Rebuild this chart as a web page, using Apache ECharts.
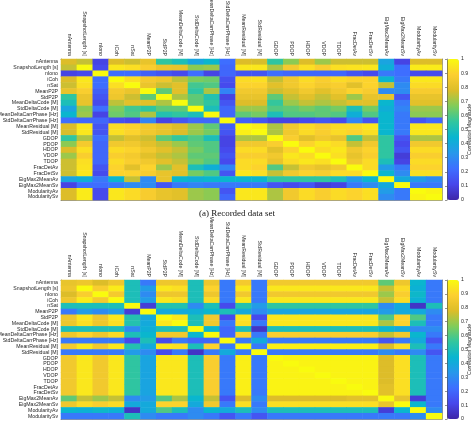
<!DOCTYPE html>
<html>
<head>
<meta charset="utf-8">
<script src="https://cdn.jsdelivr.net/npm/echarts@6/dist/echarts.min.js"></script>
<style>
html, body { margin: 0; padding: 0; background: #fff; }
#main { width: 474px; height: 423px; }
</style>
</head>
<body>
<div id="main"></div>
<script>
// variable names, same order for rows and columns
const labels = ['nAntenna', 'SnapshotLength [s]', 'nIono', 'iCoh', 'nSat', 'MeanP2P', 'StdP2P',
	'MeanDeltaCode [M]', 'StdDeltaCode [M]', 'MeanDeltaCarrPhase [Hz]', 'StdDeltaCarrPhase [Hz]',
	'MeanResidual [M]', 'StdResidual [M]', 'GDOP', 'PDOP', 'HDOP', 'VDOP', 'TDOP',
	'FracDetAv', 'FracDetSv', 'EigMax2MeanAv', 'EigMax2MeanSv', 'ModularityAv', 'ModularitySv']

// (a) recorded data set - correlation magnitude
const recorded = [
	[0.78,0.75,0.10,0.78,0.76,0.82,0.55,0.50,0.38,0.45,0.22,0.78,0.77,0.55,0.68,0.78,0.70,0.76,0.76,0.76,0.38,0.10,0.78,0.78],
	[0.75,1.00,0.12,0.95,0.93,0.88,0.83,0.82,0.68,0.70,0.20,0.95,0.95,0.72,0.86,0.93,0.88,0.93,0.94,0.95,0.42,0.22,0.96,0.96],
	[0.10,0.12,1.00,0.22,0.22,0.18,0.15,0.12,0.22,0.10,0.20,0.15,0.15,0.22,0.20,0.20,0.20,0.20,0.15,0.12,0.25,0.22,0.12,0.12],
	[0.78,0.95,0.22,1.00,0.93,0.86,0.84,0.74,0.66,0.64,0.14,0.92,0.93,0.75,0.85,0.92,0.88,0.92,0.90,0.90,0.45,0.25,0.95,0.95],
	[0.76,0.93,0.22,0.93,1.00,0.83,0.76,0.80,0.58,0.60,0.12,0.90,0.90,0.80,0.85,0.90,0.86,0.88,0.80,0.90,0.75,0.30,0.92,0.92],
	[0.82,0.88,0.18,0.86,0.83,1.00,0.62,0.80,0.55,0.72,0.28,0.85,0.85,0.76,0.80,0.85,0.80,0.85,0.90,0.87,0.30,0.30,0.87,0.87],
	[0.55,0.83,0.15,0.84,0.76,0.62,1.00,0.72,0.62,0.52,0.10,0.82,0.82,0.62,0.75,0.80,0.75,0.80,0.70,0.82,0.82,0.15,0.82,0.82],
	[0.50,0.82,0.12,0.74,0.80,0.80,0.72,1.00,0.62,0.55,0.15,0.78,0.78,0.56,0.70,0.75,0.72,0.75,0.80,0.80,0.45,0.25,0.80,0.80],
	[0.38,0.68,0.22,0.66,0.58,0.55,0.62,0.62,1.00,0.50,0.20,0.70,0.70,0.60,0.62,0.65,0.62,0.65,0.50,0.65,0.42,0.28,0.70,0.70],
	[0.45,0.70,0.10,0.64,0.60,0.72,0.52,0.55,0.50,1.00,0.20,0.62,0.65,0.50,0.60,0.60,0.62,0.60,0.42,0.60,0.45,0.25,0.68,0.68],
	[0.22,0.20,0.20,0.14,0.12,0.28,0.10,0.15,0.20,0.20,1.00,0.18,0.15,0.10,0.10,0.12,0.15,0.12,0.28,0.15,0.45,0.25,0.15,0.20],
	[0.78,0.95,0.15,0.92,0.90,0.85,0.82,0.78,0.70,0.62,0.18,1.00,0.97,0.72,0.85,0.92,0.88,0.92,0.92,0.95,0.45,0.25,0.95,0.95],
	[0.77,0.95,0.15,0.93,0.90,0.85,0.82,0.78,0.70,0.65,0.15,0.97,1.00,0.72,0.85,0.92,0.88,0.92,0.90,0.93,0.45,0.25,0.95,0.95],
	[0.55,0.72,0.22,0.75,0.80,0.76,0.62,0.56,0.60,0.50,0.10,0.72,0.72,1.00,0.88,0.80,0.85,0.82,0.60,0.75,0.55,0.15,0.72,0.72],
	[0.68,0.86,0.20,0.85,0.85,0.80,0.75,0.70,0.62,0.60,0.10,0.85,0.85,0.88,1.00,0.90,0.95,0.92,0.75,0.85,0.55,0.12,0.85,0.85],
	[0.78,0.93,0.20,0.92,0.90,0.85,0.80,0.75,0.65,0.60,0.12,0.92,0.92,0.80,0.90,1.00,0.92,0.95,0.85,0.90,0.55,0.15,0.92,0.92],
	[0.70,0.88,0.20,0.88,0.86,0.80,0.75,0.72,0.62,0.62,0.15,0.88,0.88,0.85,0.95,0.92,1.00,0.93,0.82,0.88,0.55,0.08,0.88,0.88],
	[0.76,0.93,0.20,0.92,0.88,0.85,0.80,0.75,0.65,0.60,0.12,0.92,0.92,0.82,0.92,0.95,0.93,1.00,0.85,0.92,0.50,0.10,0.92,0.92],
	[0.76,0.94,0.15,0.90,0.80,0.90,0.70,0.80,0.50,0.42,0.28,0.92,0.90,0.60,0.75,0.85,0.82,0.85,1.00,0.92,0.35,0.25,0.90,0.90],
	[0.76,0.95,0.12,0.90,0.90,0.87,0.82,0.80,0.65,0.60,0.15,0.95,0.93,0.75,0.85,0.90,0.88,0.92,0.92,1.00,0.45,0.30,0.93,0.93],
	[0.38,0.42,0.25,0.45,0.75,0.30,0.82,0.45,0.42,0.45,0.45,0.45,0.45,0.55,0.55,0.55,0.55,0.50,0.35,0.45,1.00,0.40,0.35,0.30],
	[0.10,0.22,0.22,0.25,0.30,0.30,0.15,0.25,0.28,0.25,0.25,0.25,0.25,0.15,0.12,0.15,0.08,0.10,0.25,0.30,0.40,1.00,0.25,0.25],
	[0.78,0.96,0.12,0.95,0.92,0.87,0.82,0.80,0.70,0.68,0.15,0.95,0.95,0.72,0.85,0.92,0.88,0.92,0.90,0.93,0.35,0.25,1.00,0.98],
	[0.78,0.96,0.12,0.95,0.92,0.87,0.82,0.80,0.70,0.68,0.20,0.95,0.95,0.72,0.85,0.92,0.88,0.92,0.90,0.93,0.30,0.25,0.98,1.00]
]

// (b) second data set
const simulated = [
	[0.82,0.84,0.78,0.84,0.50,0.25,0.84,0.84,0.50,0.84,0.25,0.86,0.25,0.85,0.85,0.85,0.85,0.85,0.85,0.85,0.62,0.84,0.45,0.25],
	[0.84,1.00,0.88,0.96,0.50,0.35,0.95,0.93,0.50,0.90,0.25,0.95,0.25,0.95,0.95,0.95,0.95,0.95,0.95,0.95,0.75,0.92,0.43,0.25],
	[0.78,0.88,1.00,0.86,0.50,0.30,0.84,0.84,0.50,0.84,0.25,0.85,0.25,0.85,0.85,0.85,0.85,0.85,0.85,0.85,0.70,0.88,0.46,0.25],
	[0.84,0.96,0.86,1.00,0.50,0.35,0.95,0.93,0.50,0.92,0.25,0.95,0.25,0.95,0.95,0.95,0.95,0.95,0.95,0.95,0.75,0.92,0.43,0.25],
	[0.50,0.50,0.50,0.50,1.00,0.08,0.52,0.52,0.30,0.50,0.12,0.52,0.35,0.55,0.55,0.55,0.55,0.55,0.55,0.55,0.30,0.40,0.05,0.50],
	[0.25,0.35,0.30,0.35,0.08,1.00,0.40,0.40,0.42,0.45,0.50,0.40,0.30,0.38,0.38,0.38,0.38,0.38,0.38,0.38,0.35,0.40,0.40,0.30],
	[0.84,0.95,0.84,0.95,0.52,0.40,1.00,0.95,0.50,0.85,0.12,0.95,0.12,0.95,0.95,0.95,0.95,0.95,0.95,0.95,0.60,0.90,0.60,0.25],
	[0.84,0.93,0.84,0.93,0.52,0.40,0.95,1.00,0.50,0.85,0.25,0.93,0.25,0.95,0.95,0.95,0.95,0.95,0.95,0.95,0.72,0.90,0.50,0.25],
	[0.50,0.50,0.50,0.50,0.30,0.42,0.50,0.50,1.00,0.45,0.20,0.50,0.05,0.50,0.50,0.50,0.50,0.50,0.50,0.50,0.45,0.40,0.30,0.30],
	[0.84,0.90,0.84,0.92,0.50,0.45,0.85,0.85,0.45,1.00,0.20,0.90,0.25,0.88,0.88,0.88,0.88,0.88,0.88,0.88,0.75,0.85,0.45,0.25],
	[0.25,0.25,0.25,0.25,0.12,0.50,0.12,0.25,0.20,0.20,1.00,0.25,0.40,0.25,0.25,0.25,0.25,0.25,0.25,0.25,0.15,0.25,0.40,0.15],
	[0.86,0.95,0.85,0.95,0.52,0.40,0.95,0.93,0.50,0.90,0.25,1.00,0.25,0.97,0.97,0.97,0.97,0.97,0.97,0.97,0.78,0.93,0.50,0.25],
	[0.25,0.25,0.25,0.25,0.35,0.30,0.12,0.25,0.05,0.25,0.40,0.25,1.00,0.25,0.25,0.25,0.25,0.25,0.25,0.25,0.30,0.25,0.30,0.15],
	[0.85,0.95,0.85,0.95,0.55,0.38,0.95,0.95,0.50,0.88,0.25,0.97,0.25,1.00,0.98,0.98,0.98,0.98,0.98,0.98,0.78,0.93,0.50,0.25],
	[0.85,0.95,0.85,0.95,0.55,0.38,0.95,0.95,0.50,0.88,0.25,0.97,0.25,0.98,1.00,0.98,0.98,0.98,0.98,0.98,0.78,0.93,0.50,0.25],
	[0.85,0.95,0.85,0.95,0.55,0.38,0.95,0.95,0.50,0.88,0.25,0.97,0.25,0.98,0.98,1.00,0.98,0.98,0.98,0.98,0.78,0.93,0.50,0.25],
	[0.85,0.95,0.85,0.95,0.55,0.38,0.95,0.95,0.50,0.88,0.25,0.97,0.25,0.98,0.98,0.98,1.00,0.98,0.98,0.98,0.78,0.93,0.50,0.25],
	[0.85,0.95,0.85,0.95,0.55,0.38,0.95,0.95,0.50,0.88,0.25,0.97,0.25,0.98,0.98,0.98,0.98,1.00,0.98,0.98,0.78,0.93,0.50,0.25],
	[0.85,0.95,0.85,0.95,0.55,0.38,0.95,0.95,0.50,0.88,0.25,0.97,0.25,0.98,0.98,0.98,0.98,0.98,1.00,0.98,0.80,0.93,0.50,0.25],
	[0.85,0.95,0.85,0.95,0.55,0.38,0.95,0.95,0.50,0.88,0.25,0.97,0.25,0.98,0.98,0.98,0.98,0.98,0.98,1.00,0.80,0.93,0.50,0.25],
	[0.62,0.75,0.70,0.75,0.30,0.35,0.60,0.72,0.45,0.75,0.15,0.78,0.30,0.78,0.78,0.78,0.78,0.78,0.80,0.80,1.00,0.82,0.08,0.25],
	[0.84,0.92,0.88,0.92,0.40,0.40,0.90,0.90,0.40,0.85,0.25,0.93,0.25,0.93,0.93,0.93,0.93,0.93,0.93,0.93,0.82,1.00,0.45,0.25],
	[0.45,0.43,0.46,0.43,0.05,0.40,0.60,0.50,0.30,0.45,0.40,0.50,0.30,0.50,0.50,0.50,0.50,0.50,0.50,0.50,0.08,0.45,1.00,0.30],
	[0.25,0.25,0.25,0.25,0.50,0.30,0.25,0.25,0.30,0.25,0.15,0.25,0.15,0.25,0.25,0.25,0.25,0.25,0.25,0.25,0.25,0.25,0.30,1.00]
]

// matlab parula, 10 samples
const parula = ['#3e26a8', '#4747eb', '#3e6fff', '#2797eb', '#08b5d0', '#31c69f', '#81cc59', '#dcbd29', '#fccf30', '#f9fb0e']

const barTitle = 'Correlation Magnitude'

function cells(m) {
	let out = []
	m.forEach((row, i) => row.forEach((v, j) => out.push([j, i, v])))
	return out
}

const font = 'Liberation Sans'
const textColor = '#262626'
const lineColor = '#4d4d4d'

let grids = []
let xAxes = []
let yAxes = []
let series = []
let visualMaps = []
let graphics = []

// one heatmap panel + its colorbar
function panel(top, height, matrix) {
	let g = grids.length
	grids.push({ left: 61, top: top, width: 381, height: height, outerBoundsMode: 'none' })
	// top labels
	xAxes.push({
		gridIndex: g, type: 'category', data: labels, position: 'top',
		axisLabel: { rotate: 90, fontSize: 5.2, margin: 3, interval: 0, color: textColor, fontFamily: font },
		axisTick: { inside: true, length: 2, alignWithLabel: true, lineStyle: { color: lineColor, width: 0.6 } },
		axisLine: { lineStyle: { color: lineColor, width: 0.6 } },
		splitLine: { show: false }
	})
	// bottom ticks only
	xAxes.push({
		gridIndex: g, type: 'category', data: labels, position: 'bottom',
		axisLabel: { show: false },
		axisTick: { inside: true, length: 2, alignWithLabel: true, lineStyle: { color: lineColor, width: 0.6 } },
		axisLine: { lineStyle: { color: lineColor, width: 0.6 } }
	})
	yAxes.push({
		gridIndex: g, type: 'category', data: labels, inverse: true,
		axisLabel: { fontSize: 5.2, margin: 3, interval: 0, color: textColor, fontFamily: font },
		axisTick: { inside: true, length: 2, alignWithLabel: true, lineStyle: { color: lineColor, width: 0.6 } },
		axisLine: { lineStyle: { color: lineColor, width: 0.6 } },
		splitLine: { show: false }
	})
	yAxes.push({
		gridIndex: g, type: 'category', data: labels, inverse: true, position: 'right',
		axisLabel: { show: false },
		axisTick: { inside: true, length: 2, alignWithLabel: true, lineStyle: { color: lineColor, width: 0.6 } },
		axisLine: { lineStyle: { color: lineColor, width: 0.6 } }
	})
	series.push({
		type: 'heatmap',
		xAxisIndex: xAxes.length - 2,
		yAxisIndex: yAxes.length - 2,
		data: cells(matrix),
		itemStyle: { borderWidth: 0 },
		emphasis: { disabled: true }
	})
	visualMaps.push({
		type: 'continuous', seriesIndex: series.length - 1, min: 0, max: 1,
		inRange: { color: parula }, left: 447, top: top, itemWidth: 12, itemHeight: height,
		calculable: false, padding: 0, hoverLink: false
	})

	// colorbar tick axis
	let c = grids.length
	grids.push({ left: 447, top: top, width: 12, height: height, outerBoundsMode: 'none' })
	xAxes.push({ gridIndex: c, type: 'value', min: 0, max: 1, show: false })
	yAxes.push({
		gridIndex: c, type: 'value', min: 0, max: 1, interval: 0.1, position: 'right', z: 10,
		axisLabel: { fontSize: 5.2, margin: 2, color: textColor, fontFamily: font },
		axisTick: { show: true, inside: true, length: 2, lineStyle: { color: lineColor, width: 0.6 } },
		axisLine: { show: true, lineStyle: { color: lineColor, width: 0.6 } },
		splitLine: { show: false }
	})
	graphics.push({
		type: 'text', x: 470, y: top + height / 2, rotation: Math.PI / 2,
		style: {
			text: barTitle, fill: textColor, font: '5.2px "Liberation Sans"',
			align: 'center', verticalAlign: 'middle'
		}
	})
}

panel(59, 141, recorded)
panel(280, 139, simulated)

graphics.push({
	type: 'text', x: 237, y: 214,
	style: {
		text: '(a) Recorded data set', fill: '#111',
		font: '9px "Liberation Serif"', align: 'center', verticalAlign: 'middle'
	}
})

const myChart = echarts.init(document.getElementById('main'))
myChart.setOption({
	animation: false,
	backgroundColor: '#fff',
	grid: grids,
	xAxis: xAxes,
	yAxis: yAxes,
	visualMap: visualMaps,
	series: series,
	graphic: graphics
})
</script>
</body>
</html>
